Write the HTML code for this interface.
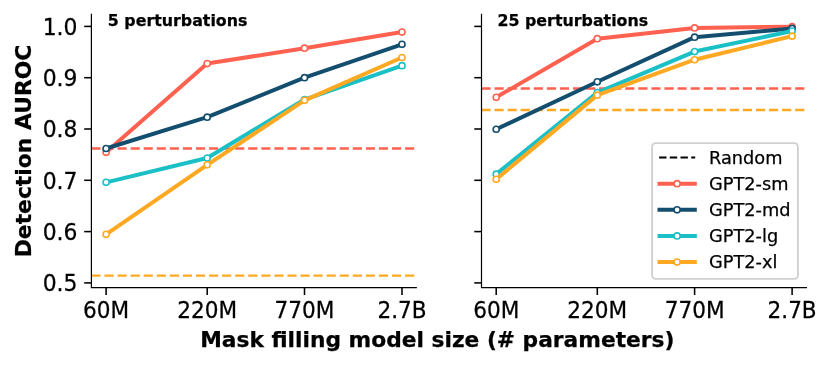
<!DOCTYPE html>
<html><head><meta charset="utf-8"><title>Detection AUROC</title>
<style>
html,body{margin:0;padding:0;background:#fff}
svg text{font-family:"DejaVu Sans","Liberation Sans",sans-serif;fill:#000;stroke:#000;stroke-width:0.25px}
.t{font-size:21.9px}
.b{font-weight:bold}
.l{font-size:17.75px}
</style></head><body>
<svg width="831" height="366" viewBox="0 0 831 366" style="display:block">
<rect width="831" height="366" fill="#fff"/>
<line x1="91.40" x2="416.90" y1="148.49" y2="148.49" stroke="#ff6150" stroke-width="2.4662" stroke-dasharray="9.12 3.95"/>
<line x1="91.40" x2="416.90" y1="275.62" y2="275.62" stroke="#ffa822" stroke-width="2.4662" stroke-dasharray="9.12 3.95"/>
<polyline fill="none" stroke="#ff6150" stroke-width="4.0" stroke-linejoin="round" stroke-linecap="butt" points="106.10,152.29 207.20,63.59 304.50,48.20 402.00,32.09"/>
<circle cx="106.10" cy="152.29" r="3.05" fill="#fff" stroke="#ff6150" stroke-width="1.6"/>
<circle cx="207.20" cy="63.59" r="3.05" fill="#fff" stroke="#ff6150" stroke-width="1.6"/>
<circle cx="304.50" cy="48.20" r="3.05" fill="#fff" stroke="#ff6150" stroke-width="1.6"/>
<circle cx="402.00" cy="32.09" r="3.05" fill="#fff" stroke="#ff6150" stroke-width="1.6"/>
<polyline fill="none" stroke="#134e6f" stroke-width="4.0" stroke-linejoin="round" stroke-linecap="butt" points="106.10,148.49 207.20,117.20 304.50,77.70 402.00,44.36"/>
<circle cx="106.10" cy="148.49" r="3.05" fill="#fff" stroke="#134e6f" stroke-width="1.6"/>
<circle cx="207.20" cy="117.20" r="3.05" fill="#fff" stroke="#134e6f" stroke-width="1.6"/>
<circle cx="304.50" cy="77.70" r="3.05" fill="#fff" stroke="#134e6f" stroke-width="1.6"/>
<circle cx="402.00" cy="44.36" r="3.05" fill="#fff" stroke="#134e6f" stroke-width="1.6"/>
<polyline fill="none" stroke="#1ac0c6" stroke-width="4.0" stroke-linejoin="round" stroke-linecap="butt" points="106.10,182.35 207.20,157.98 304.50,99.55 402.00,65.70"/>
<circle cx="106.10" cy="182.35" r="3.05" fill="#fff" stroke="#1ac0c6" stroke-width="1.6"/>
<circle cx="207.20" cy="157.98" r="3.05" fill="#fff" stroke="#1ac0c6" stroke-width="1.6"/>
<circle cx="304.50" cy="99.55" r="3.05" fill="#fff" stroke="#1ac0c6" stroke-width="1.6"/>
<circle cx="402.00" cy="65.70" r="3.05" fill="#fff" stroke="#1ac0c6" stroke-width="1.6"/>
<polyline fill="none" stroke="#ffa822" stroke-width="4.0" stroke-linejoin="round" stroke-linecap="butt" points="106.10,234.37 207.20,164.81 304.50,100.37 402.00,57.49"/>
<circle cx="106.10" cy="234.37" r="3.05" fill="#fff" stroke="#ffa822" stroke-width="1.6"/>
<circle cx="207.20" cy="164.81" r="3.05" fill="#fff" stroke="#ffa822" stroke-width="1.6"/>
<circle cx="304.50" cy="100.37" r="3.05" fill="#fff" stroke="#ffa822" stroke-width="1.6"/>
<circle cx="402.00" cy="57.49" r="3.05" fill="#fff" stroke="#ffa822" stroke-width="1.6"/>
<path d="M91.40 13.80V287.70H416.90" fill="none" stroke="#000" stroke-width="1.2" stroke-linejoin="miter"/>
<line x1="84.20" x2="91.40" y1="282.90" y2="282.90" stroke="#000" stroke-width="1.55"/>
<text transform="translate(77.50 291.20) scale(1 1.05)" text-anchor="end" class="t">0.5</text>
<line x1="84.20" x2="91.40" y1="231.60" y2="231.60" stroke="#000" stroke-width="1.55"/>
<text transform="translate(77.50 239.90) scale(1 1.05)" text-anchor="end" class="t">0.6</text>
<line x1="84.20" x2="91.40" y1="180.30" y2="180.30" stroke="#000" stroke-width="1.55"/>
<text transform="translate(77.50 188.60) scale(1 1.05)" text-anchor="end" class="t">0.7</text>
<line x1="84.20" x2="91.40" y1="129.00" y2="129.00" stroke="#000" stroke-width="1.55"/>
<text transform="translate(77.50 137.30) scale(1 1.05)" text-anchor="end" class="t">0.8</text>
<line x1="84.20" x2="91.40" y1="77.70" y2="77.70" stroke="#000" stroke-width="1.55"/>
<text transform="translate(77.50 86.00) scale(1 1.05)" text-anchor="end" class="t">0.9</text>
<line x1="84.20" x2="91.40" y1="26.40" y2="26.40" stroke="#000" stroke-width="1.55"/>
<text transform="translate(77.50 34.70) scale(1 1.05)" text-anchor="end" class="t">1.0</text>
<line x1="106.10" x2="106.10" y1="287.70" y2="295.00" stroke="#000" stroke-width="1.55"/>
<text transform="translate(106.10 318.4) scale(0.987 1.02)" text-anchor="middle" class="t">60M</text>
<line x1="207.20" x2="207.20" y1="287.70" y2="295.00" stroke="#000" stroke-width="1.55"/>
<text transform="translate(207.20 318.4) scale(0.987 1.02)" text-anchor="middle" class="t">220M</text>
<line x1="304.50" x2="304.50" y1="287.70" y2="295.00" stroke="#000" stroke-width="1.55"/>
<text transform="translate(304.50 318.4) scale(0.987 1.02)" text-anchor="middle" class="t">770M</text>
<line x1="402.00" x2="402.00" y1="287.70" y2="295.00" stroke="#000" stroke-width="1.55"/>
<text transform="translate(402.00 318.4) scale(0.987 1.02)" text-anchor="middle" class="t">2.7B</text>
<text x="107.80" y="25.6" class="b" style="font-size:15.83px">5 perturbations</text>
<line x1="481.50" x2="807.00" y1="88.47" y2="88.47" stroke="#ff6150" stroke-width="2.4662" stroke-dasharray="9.12 3.95"/>
<line x1="481.50" x2="807.00" y1="110.02" y2="110.02" stroke="#ffa822" stroke-width="2.4662" stroke-dasharray="9.12 3.95"/>
<polyline fill="none" stroke="#ff6150" stroke-width="4.0" stroke-linejoin="round" stroke-linecap="butt" points="496.20,97.30 597.30,38.71 694.60,27.94 792.10,26.66"/>
<circle cx="496.20" cy="97.30" r="3.05" fill="#fff" stroke="#ff6150" stroke-width="1.6"/>
<circle cx="597.30" cy="38.71" r="3.05" fill="#fff" stroke="#ff6150" stroke-width="1.6"/>
<circle cx="694.60" cy="27.94" r="3.05" fill="#fff" stroke="#ff6150" stroke-width="1.6"/>
<circle cx="792.10" cy="26.66" r="3.05" fill="#fff" stroke="#ff6150" stroke-width="1.6"/>
<polyline fill="none" stroke="#134e6f" stroke-width="4.0" stroke-linejoin="round" stroke-linecap="butt" points="496.20,129.26 597.30,81.80 694.60,37.17 792.10,28.45"/>
<circle cx="496.20" cy="129.26" r="3.05" fill="#fff" stroke="#134e6f" stroke-width="1.6"/>
<circle cx="597.30" cy="81.80" r="3.05" fill="#fff" stroke="#134e6f" stroke-width="1.6"/>
<circle cx="694.60" cy="37.17" r="3.05" fill="#fff" stroke="#134e6f" stroke-width="1.6"/>
<circle cx="792.10" cy="28.45" r="3.05" fill="#fff" stroke="#134e6f" stroke-width="1.6"/>
<polyline fill="none" stroke="#1ac0c6" stroke-width="4.0" stroke-linejoin="round" stroke-linecap="butt" points="496.20,174.14 597.30,92.58 694.60,51.54 792.10,31.02"/>
<circle cx="496.20" cy="174.14" r="3.05" fill="#fff" stroke="#1ac0c6" stroke-width="1.6"/>
<circle cx="597.30" cy="92.58" r="3.05" fill="#fff" stroke="#1ac0c6" stroke-width="1.6"/>
<circle cx="694.60" cy="51.54" r="3.05" fill="#fff" stroke="#1ac0c6" stroke-width="1.6"/>
<circle cx="792.10" cy="31.02" r="3.05" fill="#fff" stroke="#1ac0c6" stroke-width="1.6"/>
<polyline fill="none" stroke="#ffa822" stroke-width="4.0" stroke-linejoin="round" stroke-linecap="butt" points="496.20,179.27 597.30,95.14 694.60,59.74 792.10,36.15"/>
<circle cx="496.20" cy="179.27" r="3.05" fill="#fff" stroke="#ffa822" stroke-width="1.6"/>
<circle cx="597.30" cy="95.14" r="3.05" fill="#fff" stroke="#ffa822" stroke-width="1.6"/>
<circle cx="694.60" cy="59.74" r="3.05" fill="#fff" stroke="#ffa822" stroke-width="1.6"/>
<circle cx="792.10" cy="36.15" r="3.05" fill="#fff" stroke="#ffa822" stroke-width="1.6"/>
<path d="M481.50 13.80V287.70H807.00" fill="none" stroke="#000" stroke-width="1.2" stroke-linejoin="miter"/>
<line x1="474.30" x2="481.50" y1="282.90" y2="282.90" stroke="#000" stroke-width="1.55"/>
<line x1="474.30" x2="481.50" y1="231.60" y2="231.60" stroke="#000" stroke-width="1.55"/>
<line x1="474.30" x2="481.50" y1="180.30" y2="180.30" stroke="#000" stroke-width="1.55"/>
<line x1="474.30" x2="481.50" y1="129.00" y2="129.00" stroke="#000" stroke-width="1.55"/>
<line x1="474.30" x2="481.50" y1="77.70" y2="77.70" stroke="#000" stroke-width="1.55"/>
<line x1="474.30" x2="481.50" y1="26.40" y2="26.40" stroke="#000" stroke-width="1.55"/>
<line x1="496.20" x2="496.20" y1="287.70" y2="295.00" stroke="#000" stroke-width="1.55"/>
<text transform="translate(496.20 318.4) scale(0.987 1.02)" text-anchor="middle" class="t">60M</text>
<line x1="597.30" x2="597.30" y1="287.70" y2="295.00" stroke="#000" stroke-width="1.55"/>
<text transform="translate(597.30 318.4) scale(0.987 1.02)" text-anchor="middle" class="t">220M</text>
<line x1="694.60" x2="694.60" y1="287.70" y2="295.00" stroke="#000" stroke-width="1.55"/>
<text transform="translate(694.60 318.4) scale(0.987 1.02)" text-anchor="middle" class="t">770M</text>
<line x1="792.10" x2="792.10" y1="287.70" y2="295.00" stroke="#000" stroke-width="1.55"/>
<text transform="translate(792.10 318.4) scale(0.987 1.02)" text-anchor="middle" class="t">2.7B</text>
<text x="497.50" y="25.6" class="b" style="font-size:15.83px">25 perturbations</text>
<text x="437.3" y="346.7" text-anchor="middle" class="b" style="font-size:21.76px">Mask filling model size (# parameters)</text>
<text transform="translate(31.2 151.0) rotate(-90)" text-anchor="middle" class="b" style="font-size:21.85px">Detection AUROC</text>
<rect x="652.1" y="143.1" width="145.8" height="135.8" rx="3.6" fill="#fff" fill-opacity="0.8" stroke="#cfcfcf" stroke-width="1.8"/>
<line x1="659.1" x2="695.2" y1="157.5" y2="157.5" stroke="#000" stroke-width="2.2" stroke-dasharray="7.4 3.3"/>
<text x="709.0" y="163.6" class="l">Random</text>
<line x1="657.5" x2="696.8" y1="183.65" y2="183.65" stroke="#ff6150" stroke-width="4.0"/>
<circle cx="677.1" cy="183.65" r="3.05" fill="#fff" stroke="#ff6150" stroke-width="1.6"/>
<text x="709.0" y="189.75" class="l">GPT2-sm</text>
<line x1="657.5" x2="696.8" y1="209.8" y2="209.8" stroke="#134e6f" stroke-width="4.0"/>
<circle cx="677.1" cy="209.8" r="3.05" fill="#fff" stroke="#134e6f" stroke-width="1.6"/>
<text x="709.0" y="215.9" class="l">GPT2-md</text>
<line x1="657.5" x2="696.8" y1="235.95" y2="235.95" stroke="#1ac0c6" stroke-width="4.0"/>
<circle cx="677.1" cy="235.95" r="3.05" fill="#fff" stroke="#1ac0c6" stroke-width="1.6"/>
<text x="709.0" y="242.04999999999998" class="l">GPT2-lg</text>
<line x1="657.5" x2="696.8" y1="262.1" y2="262.1" stroke="#ffa822" stroke-width="4.0"/>
<circle cx="677.1" cy="262.1" r="3.05" fill="#fff" stroke="#ffa822" stroke-width="1.6"/>
<text x="709.0" y="268.20000000000005" class="l">GPT2-xl</text>
</svg>
</body></html>
